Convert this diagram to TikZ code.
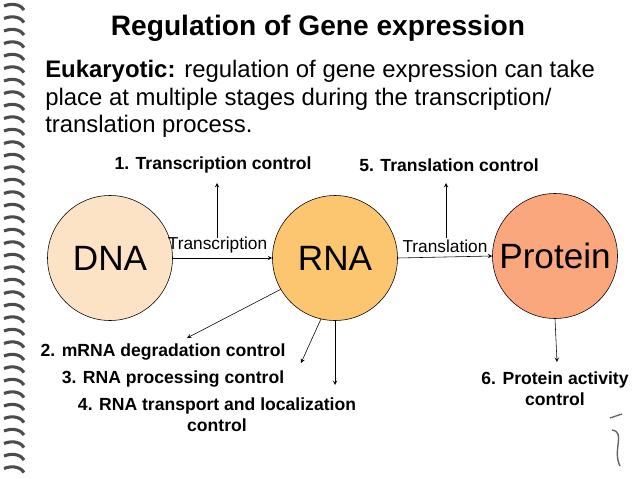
\documentclass[tikz,border=0pt]{standalone}
\usepackage{fontspec}
\setmainfont{Liberation Sans}
\definecolor{DNAc}{HTML}{FCE3C6}
\definecolor{RNAc}{HTML}{FCC671}
\definecolor{Protc}{HTML}{FBA77E}
\tikzset{
  mol/.style={circle, draw, minimum size=125*0.025cm, inner sep=0pt, font=\fontsize{25}{28}\selectfont},
  ctrl/.style={font=\bfseries\fontsize{12.5}{15}\selectfont, align=center, inner sep=1pt},
  proc/.style={font=\fontsize{12.3}{14}\selectfont, inner sep=1pt},
  arr/.style={-stealth, thin}
}
\begin{document}
\begin{tikzpicture}[x=0.025cm, y=-0.025cm]
    \useasboundingbox (0,0) rectangle (638,479);
    % binding
    \foreach \k in {0,...,37}
      \draw[line width=2.2pt, black!70] (4,{6+12.5*\k}) .. controls (14,{2+12.5*\k}) and (22,{6+12.5*\k}) .. (24,{10+12.5*\k});
    \node at (318,28) [font=\bfseries\fontsize{20}{24}\selectfont] (title) {Regulation of Gene expression};
    \node at (45,99) [anchor=west, align=left, font=\fontsize{17}{19.5}\selectfont, inner sep=0pt] (body)
      {\textbf{Eukaryotic:} regulation of gene expression can take\\place at multiple stages during the transcription/\\translation process.};

    \node at (110,258) (DNA) [mol, fill=DNAc] {DNA};
    \node at (335,258) (RNA) [mol, fill=RNAc] {RNA};
    \node at (555,256) (Prot) [mol, fill=Protc] {Protein};

    \draw[arr] (DNA.east) -- (RNA.west) node[pos=0.45, above=2pt, proc] (tr) {Transcription};
    \draw[arr] (RNA.east) -- (Prot.west) node[pos=0.5, above=2pt, proc] (tl) {Translation};

    \node at (213,165) (c1) [ctrl] {1. Transcription control};
    \node at (449,165) (c5) [ctrl] {5. Translation control};
    \node at (163,352) (c2) [ctrl] {2. mRNA degradation control};
    \node at (173,379) (c3) [ctrl] {3. RNA processing control};
    \node at (217,415) (c4) [ctrl] {4. RNA transport and localization\\control};
    \node at (555,389) (c6) [ctrl] {6. Protein activity\\control};

    \coordinate (a1) at (217,238);
    \coordinate (a5) at (446,238);
    \draw[arr] (a1) -- (217,183);
    \draw[arr] (a5) -- (446,183);
    \draw[arr] (RNA.210) -- (187,338);
    \draw[arr] (RNA.257) -- (301,363);
    \draw[arr] (RNA.south) -- (335,385);
    \draw[arr] (Prot.south) -- (557,362);

    % ornament
    \draw[line width=1pt, black!60] (610,418) -- (622,414) (612,430) .. controls (626,432) and (612,450) .. (620,466);
\end{tikzpicture}
\end{document}
